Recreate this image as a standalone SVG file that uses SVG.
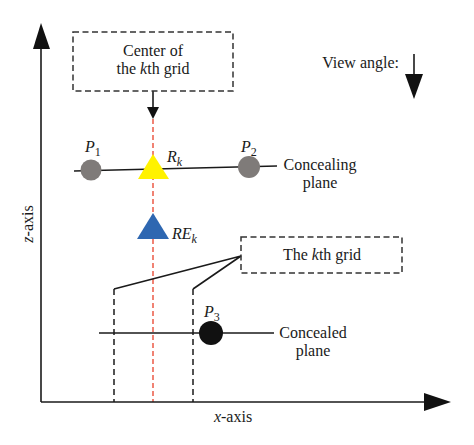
<svg xmlns="http://www.w3.org/2000/svg" width="474" height="445" viewBox="0 0 474 445">
<style>
text{font-family:"Liberation Serif","Times New Roman",serif;font-size:16px;fill:#1a1a1a}
.i{font-style:italic}
.sub{font-size:12px}
.ln{stroke:#1a1a1a;stroke-width:1.6;fill:none}
.dbox{stroke:#333;stroke-width:1.5;fill:none;stroke-dasharray:6 3.5}
.dv{stroke:#1a1a1a;stroke-width:1.5;fill:none;stroke-dasharray:6 4}
.red{stroke:#e8402a;stroke-width:1.3;fill:none;stroke-dasharray:5 3}
</style>
<rect width="474" height="445" fill="#fff"/>
<g id="connectors">
<line class="red" x1="153" y1="119" x2="153" y2="402"/>
<line class="ln" x1="74" y1="171" x2="277" y2="166"/>
<line class="ln" x1="99" y1="333" x2="274" y2="333"/>
<polyline class="ln" points="114,289 241,256 193,289"/>
<line class="dv" x1="114" y1="289" x2="114" y2="402"/>
<line class="dv" x1="193" y1="289" x2="193" y2="402"/>
<line class="ln" x1="153" y1="91" x2="153" y2="108"/>
<polygon points="147,107 159,107 153,119" fill="#111"/>
</g>
<g id="z-axis">
<line class="ln" x1="41" y1="45" x2="41" y2="402" stroke-width="2"/>
<polygon points="41,23 33,49 50,49" fill="#111"/>
<text transform="translate(33,224) rotate(-90)" text-anchor="middle"><tspan class="i">z</tspan>-axis</text>
</g>
<g id="x-axis">
<line class="ln" x1="41" y1="402" x2="428" y2="402" stroke-width="2"/>
<polygon points="451,402 424,393 424,411" fill="#111"/>
<text x="233" y="422" text-anchor="middle"><tspan class="i">x</tspan>-axis</text>
</g>
<g id="center-box">
<rect class="dbox" x="73" y="32" width="160" height="59"/>
<text x="153" y="56" text-anchor="middle">Center of</text>
<text x="153" y="74" text-anchor="middle">the <tspan class="i">k</tspan>th grid</text>
</g>
<g id="view-angle">
<text x="399" y="68" text-anchor="end">View angle:</text>
<line class="ln" x1="414" y1="54" x2="414" y2="76"/>
<polygon points="405,74 423,74 414,99" fill="#111"/>
</g>
<g id="P1">
<circle cx="91" cy="170" r="10.5" fill="#7f7b79"/>
<text class="i" x="85" y="152">P<tspan class="sub" font-style="normal" dy="4">1</tspan></text>
</g>
<g id="P2">
<circle cx="249" cy="167" r="11" fill="#7f7b79"/>
<text class="i" x="241" y="152">P<tspan class="sub" font-style="normal" dy="4">2</tspan></text>
</g>
<g id="Rk">
<polygon points="153,154 138,179 169,179" fill="#fff200"/>
<text class="i" x="167" y="162">R<tspan class="sub" dy="4">k</tspan></text>
</g>
<g id="concealing-label">
<text x="320" y="170" text-anchor="middle">Concealing</text>
<text x="320" y="188" text-anchor="middle">plane</text>
</g>
<g id="REk">
<polygon points="153,213 137,239 169,239" fill="#2e67b1"/>
<text class="i" x="172" y="239">RE<tspan class="sub" dy="4">k</tspan></text>
</g>
<g id="kth-grid-box">
<rect class="dbox" x="241" y="237" width="161" height="36"/>
<text x="322" y="260" text-anchor="middle">The <tspan class="i">k</tspan>th grid</text>
</g>
<g id="P3">
<circle cx="211" cy="333" r="12" fill="#111"/>
<text class="i" x="204" y="317">P<tspan class="sub" font-style="normal" dy="4">3</tspan></text>
</g>
<g id="concealed-label">
<text x="313" y="338" text-anchor="middle">Concealed</text>
<text x="313" y="356" text-anchor="middle">plane</text>
</g>
</svg>
